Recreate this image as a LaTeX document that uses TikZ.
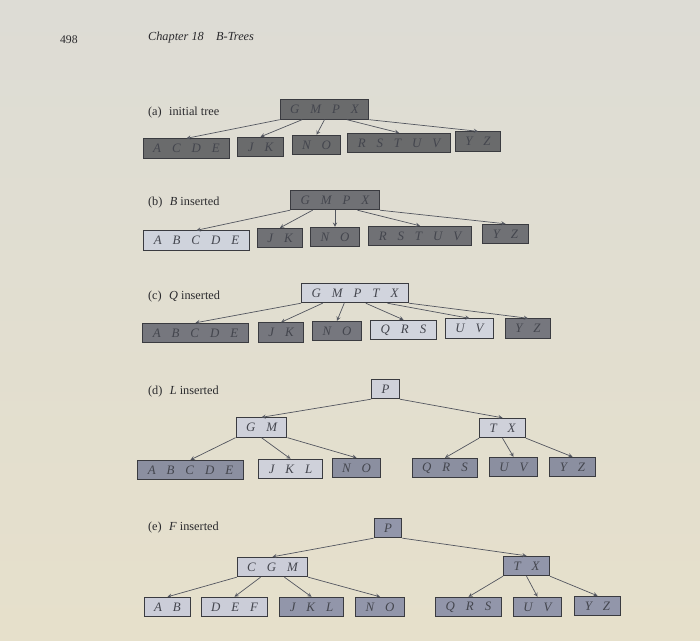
\documentclass[tikz,border=0pt]{standalone}
\usepackage{fontspec}
\setmainfont{Liberation Serif}
\usepackage{tikz}
\usetikzlibrary{calc,arrows}

\definecolor{pagetop}{HTML}{DDDCD5}
\definecolor{pagebot}{HTML}{E6E0CB}
\definecolor{boxline}{HTML}{3A3B40}
\definecolor{keytext}{HTML}{44464E}
\definecolor{ptrline}{HTML}{53565F}
\definecolor{captext}{HTML}{2A2A2D}
\definecolor{dkfill}{HTML}{6A6B6C}
\definecolor{ltfill}{HTML}{CFD3DC}

\newcommand\kgap{\hspace{.85em}}
\newcommand\keyfont{\fontsize{11}{12}\selectfont\itshape}
% pointer from a gap on the lower edge of a node to a child
\newcommand\ptrto[3]{\draw[ptr] ($(#1.south west)!#2!(#1.south east)$) -- (#3.north);}

\begin{document}
\begin{tikzpicture}[x=0.03cm,y=-0.03cm,
  key/.style={draw=boxline,line width=0.9pt,minimum height=16.5pt,inner xsep=8.5pt,inner ysep=0pt,font=\keyfont,text=keytext},
  dk/.style={key,fill=dkfill},
  lt/.style={key,fill=ltfill},
  ptr/.style={->,>=stealth,draw=ptrline,line width=0.6pt},
  panel/.style={anchor=west,font=\fontsize{10.5}{12}\selectfont,text=captext}]
\useasboundingbox (0,0) rectangle (700,640);
\shade[top color=pagetop,bottom color=pagebot] (0,0) rectangle (700,640);

\node[anchor=west,text=captext] (page) at (56,40) {498};
\node[anchor=west,text=captext,font=\fontsize{10.5}{12}\selectfont] (chap) at (144,38) {\itshape Chapter 18\hspace{1em}B-Trees};

% (a)
\node[panel] (capa) at (144,113) {(a)\hspace{.6em}initial tree};
\node[dk] (ra) at (324.5,109.5) {G\kgap M\kgap P\kgap X};
\node[dk] (a1) at (186.5,148.5) {A\kgap C\kgap D\kgap E};
\node[dk] (a2) at (260.5,147) {J\kgap K};
\node[dk] (a3) at (316.5,145) {N\kgap O};
\node[dk] (a4) at (399,143) {R\kgap S\kgap T\kgap U\kgap V};
\node[dk] (a5) at (478,141.5) {Y\kgap Z};
\foreach \f/\c in {0/a1,0.25/a2,0.5/a3,0.75/a4,1/a5}
  {\ptrto{ra}{\f}{\c}}

% (b)
\definecolor{dkfill}{HTML}{707175}
\node[panel] (capb) at (144,203) {(b)\hspace{.6em}\textit{B} inserted};
\node[dk] (rb) at (335,200) {G\kgap M\kgap P\kgap X};
\node[lt] (b1) at (196.5,240.5) {A\kgap B\kgap C\kgap D\kgap E};
\node[dk] (b2) at (280,238) {J\kgap K};
\node[dk] (b3) at (335,237) {N\kgap O};
\node[dk] (b4) at (420,236) {R\kgap S\kgap T\kgap U\kgap V};
\node[dk] (b5) at (505.5,234) {Y\kgap Z};
\foreach \f/\c in {0/b1,0.25/b2,0.5/b3,0.75/b4,1/b5}
  {\ptrto{rb}{\f}{\c}}

% (c)
\definecolor{dkfill}{HTML}{76777E}
\definecolor{ltfill}{HTML}{D1D4DD}
\node[panel] (capc) at (144,297) {(c)\hspace{.6em}\textit{Q} inserted};
\node[lt] (rc) at (355,293) {G\kgap M\kgap P\kgap T\kgap X};
\node[dk] (c1) at (195.5,333) {A\kgap B\kgap C\kgap D\kgap E};
\node[dk] (c2) at (281,332.5) {J\kgap K};
\node[dk] (c3) at (337,331) {N\kgap O};
\node[lt] (c4) at (403.5,330) {Q\kgap R\kgap S};
\node[lt] (c5) at (469.5,328.5) {U\kgap V};
\node[dk] (c6) at (528,328.5) {Y\kgap Z};
\foreach \f/\c in {0/c1,0.2/c2,0.4/c3,0.6/c4,0.8/c5,1/c6}
  {\ptrto{rc}{\f}{\c}}

% (d)
\definecolor{dkfill}{HTML}{8B8FA0}
\definecolor{ltfill}{HTML}{CFD1DA}
\node[panel] (capd) at (144,392) {(d)\hspace{.6em}\textit{L} inserted};
\node[lt] (dP) at (385.5,389) {P};
\node[lt] (dGM) at (261.5,427.5) {G\kgap M};
\node[lt] (dTX) at (502.5,428) {T\kgap X};
\node[dk] (d1) at (190.5,470) {A\kgap B\kgap C\kgap D\kgap E};
\node[lt] (d2) at (290.5,469) {J\kgap K\kgap L};
\node[dk] (d3) at (356.5,468) {N\kgap O};
\node[dk] (d4) at (445,468) {Q\kgap R\kgap S};
\node[dk] (d5) at (513.5,467) {U\kgap V};
\node[dk] (d6) at (572.5,467) {Y\kgap Z};
\ptrto{dP}{0}{dGM}
\ptrto{dP}{1}{dTX}
\foreach \f/\c in {0/d1,0.5/d2,1/d3}
  {\ptrto{dGM}{\f}{\c}}
\foreach \f/\c in {0/d4,0.5/d5,1/d6}
  {\ptrto{dTX}{\f}{\c}}

% (e)
\definecolor{dkfill}{HTML}{9296AA}
\definecolor{ltfill}{HTML}{CBCDD8}
\node[panel] (cape) at (144,528) {(e)\hspace{.6em}\textit{F} inserted};
\node[dk] (eP) at (388,528) {P};
\node[lt] (eCGM) at (272.5,567) {C\kgap G\kgap M};
\node[dk] (eTX) at (526.5,566) {T\kgap X};
\node[lt] (e1) at (167.5,607) {A\kgap B};
\node[lt] (e2) at (234.5,607) {D\kgap E\kgap F};
\node[dk] (e3) at (311.5,607) {J\kgap K\kgap L};
\node[dk] (e4) at (380,607) {N\kgap O};
\node[dk] (e5) at (468.5,607) {Q\kgap R\kgap S};
\node[dk] (e6) at (537.5,607) {U\kgap V};
\node[dk] (e7) at (597.5,606) {Y\kgap Z};
\ptrto{eP}{0}{eCGM}
\ptrto{eP}{1}{eTX}
\foreach \f/\c in {0/e1,0.333/e2,0.667/e3,1/e4}
  {\ptrto{eCGM}{\f}{\c}}
\foreach \f/\c in {0/e5,0.5/e6,1/e7}
  {\ptrto{eTX}{\f}{\c}}
\end{tikzpicture}
\end{document}
